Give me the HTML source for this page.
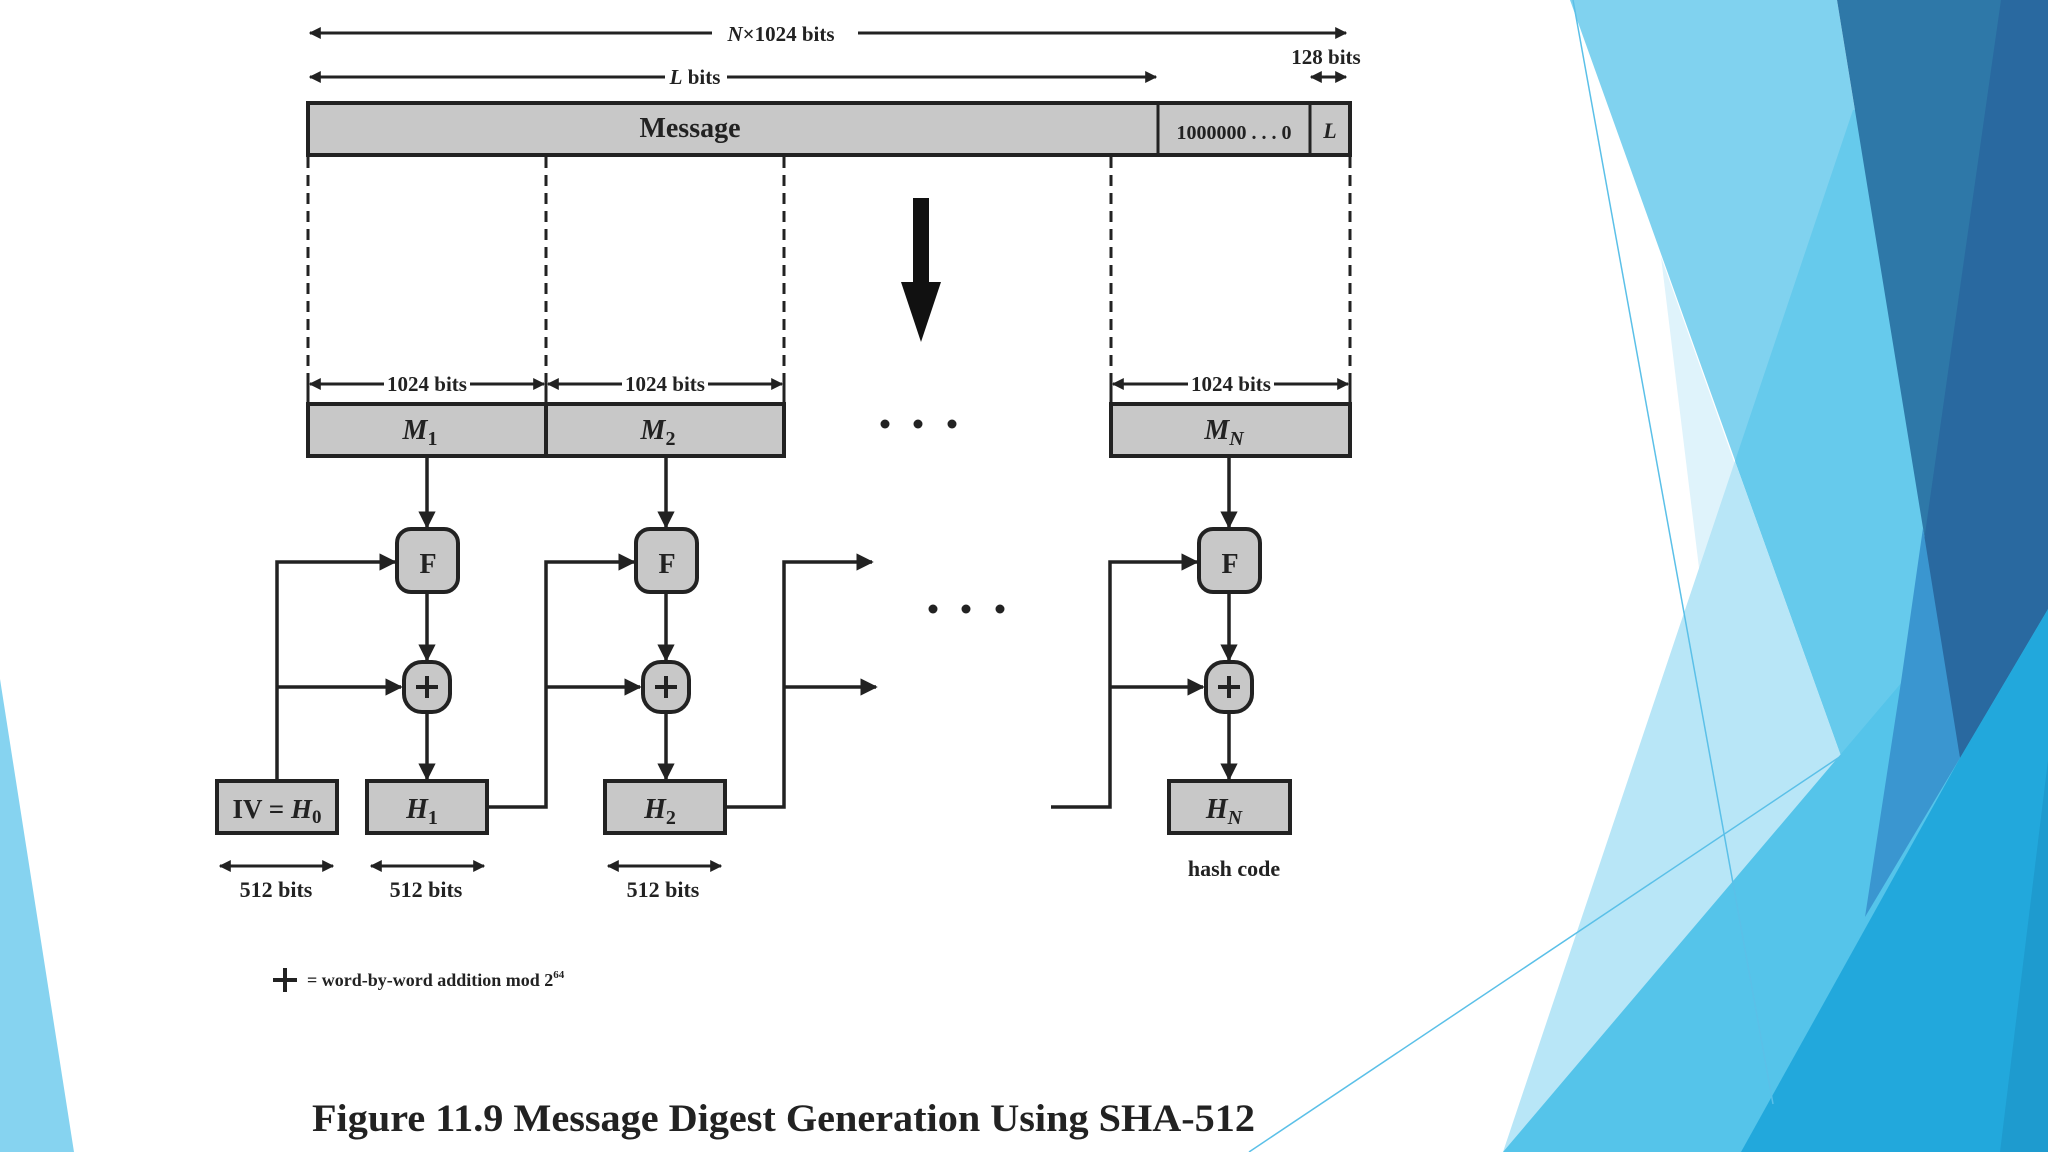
<!DOCTYPE html>
<html><head><meta charset="utf-8"><style>
html,body{margin:0;padding:0;background:#fff;}
svg{display:block;}
text{font-family:"Liberation Serif",serif;font-weight:bold;fill:#222;}
</style></head><body>
<svg width="2048" height="1152" viewBox="0 0 2048 1152" xmlns="http://www.w3.org/2000/svg">
<defs>
<marker id="ah" viewBox="0 0 10 10" refX="9" refY="5" markerWidth="4" markerHeight="4" orient="auto-start-reverse" markerUnits="strokeWidth"><path d="M0,0 L10,5 L0,10 z" fill="#222"/></marker>
<marker id="as" viewBox="0 0 10 10" refX="9" refY="5" markerWidth="5" markerHeight="5" orient="auto-start-reverse" markerUnits="strokeWidth"><path d="M0,0 L10,5 L0,10 z" fill="#222"/></marker>
</defs>
<!-- left decoration -->
<polygon points="0,679 74,1152 0,1152" fill="#86d3f0"/>
<!-- right decoration -->
<polygon points="1570,0 1837,0 1960,758 1841,756" fill="#80d2ef"/>
<polygon points="1661,257 1741,481 1714,576 1700,576" fill="#dff3fb"/>
<polygon points="1853,110 1735,461 1841,756 1990,760 1900,100" fill="#66caec"/>
<polygon points="1735,461 1841,756 1900,760 1503,1152" fill="#b8e6f7"/>
<polygon points="1503,1152 1936,642 2048,500 2048,1152" fill="#55c4ea"/>
<polygon points="1837,0 2048,0 2048,609 1960,758 1923,528" fill="#2e78a8"/>
<polygon points="2001,0 2048,0 2048,609 1960,758 1919,576" fill="#2969a0"/>
<polygon points="1923,528 1960,758 1865,917 1901,682" fill="#3a96d0"/>
<polygon points="2048,609 1960,758 1741,1152 2048,1152" fill="#22a8dc"/>
<polygon points="2048,760 2048,1152 2000,1152" fill="#1e9bcf"/>
<line x1="1573" y1="0" x2="1773" y2="1104" stroke="#5bc0e8" stroke-width="1.5"/>
<line x1="1249" y1="1152" x2="1841" y2="756" stroke="#5bc0e8" stroke-width="1.5"/>

<g stroke="#222" stroke-width="3" fill="none">
<line x1="310" y1="33" x2="712" y2="33" marker-start="url(#ah)"/>
<line x1="858" y1="33" x2="1346" y2="33" marker-end="url(#ah)"/>
<line x1="310" y1="77" x2="665" y2="77" marker-start="url(#ah)"/>
<line x1="727" y1="77" x2="1156" y2="77" marker-end="url(#ah)"/>
<line x1="1311" y1="77" x2="1346" y2="77" marker-start="url(#ah)" marker-end="url(#ah)"/>
</g>
<text x="781" y="41" font-size="21" text-anchor="middle"><tspan font-style="italic">N</tspan>×1024 bits</text>
<text x="695" y="84" font-size="21" text-anchor="middle"><tspan font-style="italic">L</tspan> bits</text>
<text x="1326" y="64" font-size="21" text-anchor="middle">128 bits</text>

<rect x="308" y="103" width="1042" height="52" fill="#c8c8c8" stroke="#222" stroke-width="4"/>
<line x1="1158" y1="103" x2="1158" y2="155" stroke="#222" stroke-width="3"/>
<line x1="1310" y1="103" x2="1310" y2="155" stroke="#222" stroke-width="3"/>
<text x="690" y="137" font-size="28" text-anchor="middle">Message</text>
<text x="1234" y="139" font-size="20" text-anchor="middle">1000000 . . . 0</text>
<text x="1330" y="138" font-size="22" font-style="italic" text-anchor="middle">L</text>

<g stroke="#222" stroke-width="3" stroke-dasharray="11,7">
<line x1="308" y1="157" x2="308" y2="402"/>
<line x1="546" y1="157" x2="546" y2="402"/>
<line x1="784" y1="157" x2="784" y2="402"/>
<line x1="1111" y1="157" x2="1111" y2="402"/>
<line x1="1350" y1="157" x2="1350" y2="402"/>
</g>
<rect x="913" y="198" width="16" height="86" fill="#111"/>
<polygon points="901,282 941,282 921,342" fill="#111"/>

<g stroke="#222" stroke-width="3" fill="none">
<line x1="310" y1="384" x2="384" y2="384" marker-start="url(#ah)"/>
<line x1="470" y1="384" x2="544" y2="384" marker-end="url(#ah)"/>
<line x1="548" y1="384" x2="622" y2="384" marker-start="url(#ah)"/>
<line x1="708" y1="384" x2="782" y2="384" marker-end="url(#ah)"/>
<line x1="1113" y1="384" x2="1188" y2="384" marker-start="url(#ah)"/>
<line x1="1274" y1="384" x2="1348" y2="384" marker-end="url(#ah)"/>
<line x1="308" y1="376" x2="308" y2="392"/><line x1="546" y1="376" x2="546" y2="392"/><line x1="784" y1="376" x2="784" y2="392"/>
<line x1="1111" y1="376" x2="1111" y2="392"/><line x1="1350" y1="376" x2="1350" y2="392"/>
</g>
<text x="427" y="391" font-size="21" text-anchor="middle">1024  bits</text>
<text x="665" y="391" font-size="21" text-anchor="middle">1024  bits</text>
<text x="1231" y="391" font-size="21" text-anchor="middle">1024  bits</text>

<g fill="#c8c8c8" stroke="#222" stroke-width="4">
<rect x="308" y="404" width="238" height="52"/>
<rect x="546" y="404" width="238" height="52"/>
<rect x="1111" y="404" width="239" height="52"/>
</g>
<text x="420" y="439" font-size="28" text-anchor="middle"><tspan font-style="italic">M</tspan><tspan font-size="20" dy="6">1</tspan></text>
<text x="658" y="439" font-size="28" text-anchor="middle"><tspan font-style="italic">M</tspan><tspan font-size="20" dy="6">2</tspan></text>
<text x="1224" y="439" font-size="28" text-anchor="middle"><tspan font-style="italic">M</tspan><tspan font-size="20" dy="6" font-style="italic">N</tspan></text>
<g fill="#222"><circle cx="885" cy="424" r="4.5"/><circle cx="918" cy="424" r="4.5"/><circle cx="952" cy="424" r="4.5"/>
<circle cx="933" cy="609" r="4.5"/><circle cx="966" cy="609" r="4.5"/><circle cx="1000" cy="609" r="4.5"/></g>

<g stroke="#222" stroke-width="3.5" fill="none">
<line x1="427" y1="456" x2="427" y2="527" marker-end="url(#as)"/>
<line x1="666" y1="456" x2="666" y2="527" marker-end="url(#as)"/>
<line x1="1229" y1="456" x2="1229" y2="527" marker-end="url(#as)"/>
<line x1="427" y1="593" x2="427" y2="660" marker-end="url(#as)"/>
<line x1="666" y1="593" x2="666" y2="660" marker-end="url(#as)"/>
<line x1="1229" y1="593" x2="1229" y2="660" marker-end="url(#as)"/>
<line x1="427" y1="712" x2="427" y2="779" marker-end="url(#as)"/>
<line x1="666" y1="712" x2="666" y2="779" marker-end="url(#as)"/>
<line x1="1229" y1="712" x2="1229" y2="779" marker-end="url(#as)"/>
<polyline points="277,781 277,562 395,562" marker-end="url(#as)"/>
<line x1="277" y1="687" x2="401" y2="687" marker-end="url(#as)"/>
<polyline points="487,807 546,807 546,562 634,562" marker-end="url(#as)"/>
<line x1="546" y1="687" x2="640" y2="687" marker-end="url(#as)"/>
<polyline points="725,807 784,807 784,562 872,562" marker-end="url(#as)"/>
<line x1="784" y1="687" x2="876" y2="687" marker-end="url(#as)"/>
<polyline points="1051,807 1110,807 1110,562 1197,562" marker-end="url(#as)"/>
<line x1="1110" y1="687" x2="1203" y2="687" marker-end="url(#as)"/>
</g>

<g fill="#c8c8c8" stroke="#222" stroke-width="4">
<rect x="397" y="529" width="61" height="63" rx="14"/>
<rect x="636" y="529" width="61" height="63" rx="14"/>
<rect x="1199" y="529" width="61" height="63" rx="14"/>
<rect x="404" y="662" width="46" height="50" rx="18"/>
<rect x="643" y="662" width="46" height="50" rx="18"/>
<rect x="1206" y="662" width="46" height="50" rx="18"/>
</g>
<text x="428" y="573" font-size="28" text-anchor="middle">F</text>
<text x="667" y="573" font-size="28" text-anchor="middle">F</text>
<text x="1230" y="573" font-size="28" text-anchor="middle">F</text>
<g stroke="#222" stroke-width="4">
<line x1="416" y1="687" x2="438" y2="687"/><line x1="427" y1="676" x2="427" y2="698"/>
<line x1="655" y1="687" x2="677" y2="687"/><line x1="666" y1="676" x2="666" y2="698"/>
<line x1="1218" y1="687" x2="1240" y2="687"/><line x1="1229" y1="676" x2="1229" y2="698"/>
</g>

<g fill="#c8c8c8" stroke="#222" stroke-width="4">
<rect x="217" y="781" width="120" height="52"/>
<rect x="367" y="781" width="120" height="52"/>
<rect x="605" y="781" width="120" height="52"/>
<rect x="1169" y="781" width="121" height="52"/>
</g>
<text x="277" y="818" font-size="27" text-anchor="middle">IV = <tspan font-style="italic">H</tspan><tspan font-size="19" dy="5">0</tspan></text>
<text x="422" y="818" font-size="28" text-anchor="middle"><tspan font-style="italic">H</tspan><tspan font-size="20" dy="6">1</tspan></text>
<text x="660" y="818" font-size="28" text-anchor="middle"><tspan font-style="italic">H</tspan><tspan font-size="20" dy="6">2</tspan></text>
<text x="1224" y="818" font-size="28" text-anchor="middle"><tspan font-style="italic">H</tspan><tspan font-size="20" dy="6" font-style="italic">N</tspan></text>

<g stroke="#222" stroke-width="3">
<line x1="220" y1="866" x2="333" y2="866" marker-start="url(#ah)" marker-end="url(#ah)"/>
<line x1="371" y1="866" x2="484" y2="866" marker-start="url(#ah)" marker-end="url(#ah)"/>
<line x1="608" y1="866" x2="721" y2="866" marker-start="url(#ah)" marker-end="url(#ah)"/>
</g>
<text x="276" y="897" font-size="22" text-anchor="middle">512  bits</text>
<text x="426" y="897" font-size="22" text-anchor="middle">512  bits</text>
<text x="663" y="897" font-size="22" text-anchor="middle">512  bits</text>
<text x="1234" y="876" font-size="22" text-anchor="middle">hash code</text>

<g stroke="#222" stroke-width="4"><line x1="273" y1="980" x2="297" y2="980"/><line x1="285" y1="968" x2="285" y2="992"/></g>
<text x="307" y="986" font-size="18">= word-by-word addition mod 2<tspan font-size="11" dy="-8">64</tspan></text>

<text x="312" y="1131" font-size="39" textLength="943" lengthAdjust="spacingAndGlyphs">Figure 11.9  Message Digest Generation Using SHA-512</text>
</svg>
</body></html>
